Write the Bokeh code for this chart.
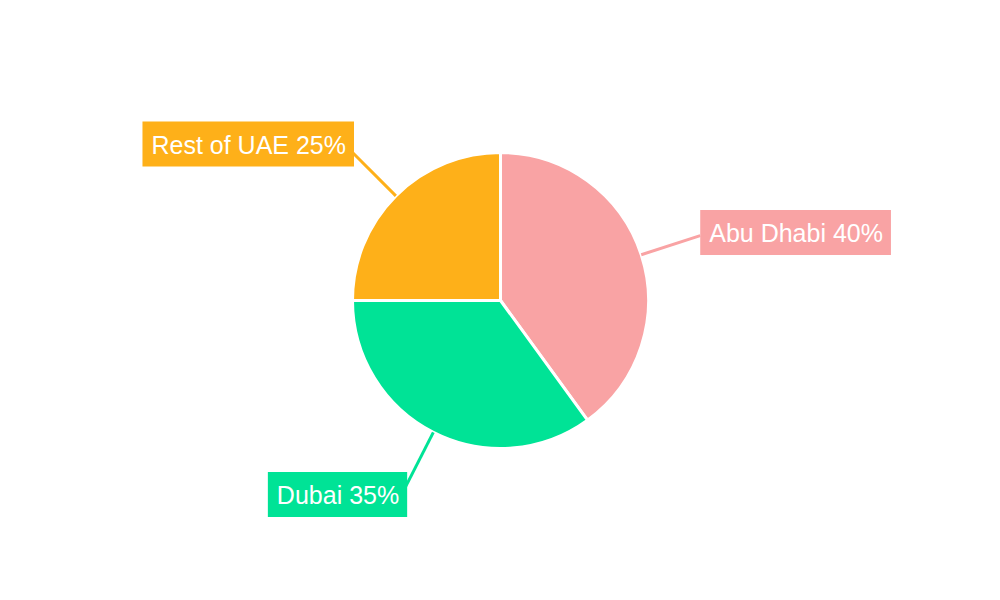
import math
from bokeh.plotting import figure
from bokeh.models import Range1d, ColumnDataSource
from bokeh.core.properties import value
from bokeh.embed import file_html
from bokeh.resources import INLINE

# data
regions = ["Abu Dhabi", "Dubai", "Rest of UAE"]
shares = [40, 35, 25]
colors = ["#F9A3A4", "#00E396", "#FEB019"]

# layout
cx, cy, r = 500, 300, 148
r_line = 210
label_dy = [3, -7, 8]  # vertical nudge of label boxes (pixels, up positive)

total = sum(shares)
starts, ends = [], []
cum = 0
for s in shares:
    starts.append(math.pi / 2 - 2 * math.pi * cum / total)
    cum += s
    ends.append(math.pi / 2 - 2 * math.pi * cum / total)
mids = [(a + b) / 2 for a, b in zip(starts, ends)]

p = figure(width=984, height=584, output_backend="svg", toolbar_location=None,
           x_range=Range1d(0, 984), y_range=Range1d(16, 600),
           min_border=0)
p.axis.visible = False
p.grid.visible = False
p.outline_line_color = None
p.background_fill_color = "white"
p.border_fill_color = "white"

src = ColumnDataSource(dict(x=[cx] * 3, y=[cy] * 3, start=starts, end=ends, color=colors))
p.wedge(x="x", y="y", radius=r, start_angle="start", end_angle="end", direction="clock",
        fill_color="color", line_color="white", line_width=3, source=src)

x0 = [cx + r * math.cos(m) for m in mids]
y0 = [cy + r * math.sin(m) for m in mids]
x1 = [cx + r_line * math.cos(m) for m in mids]
y1 = [cy + r_line * math.sin(m) for m in mids]
p.segment(x0=x0, y0=y0, x1=x1, y1=y1, line_color=colors, line_width=3)

labels = [f"{n} {v}%" for n, v in zip(regions, shares)]
aligns = ["left" if math.cos(m) >= 0 else "right" for m in mids]
lsrc = ColumnDataSource(dict(x=[x + (2 if a == "right" else 0) for x, a in zip(x1, aligns)],
                             y=[y + d for y, d in zip(y1, label_dy)], text=labels,
                             color=colors, align=aligns))
p.text(x="x", y="y", text="text", source=lsrc, text_align="align", text_baseline="middle",
       text_color="white", text_font=value("Liberation Sans"), text_font_size="25px",
       background_fill_color="color", padding=[9, 8, 9, 8])

open("out.html", "w").write(file_html(p, INLINE))
